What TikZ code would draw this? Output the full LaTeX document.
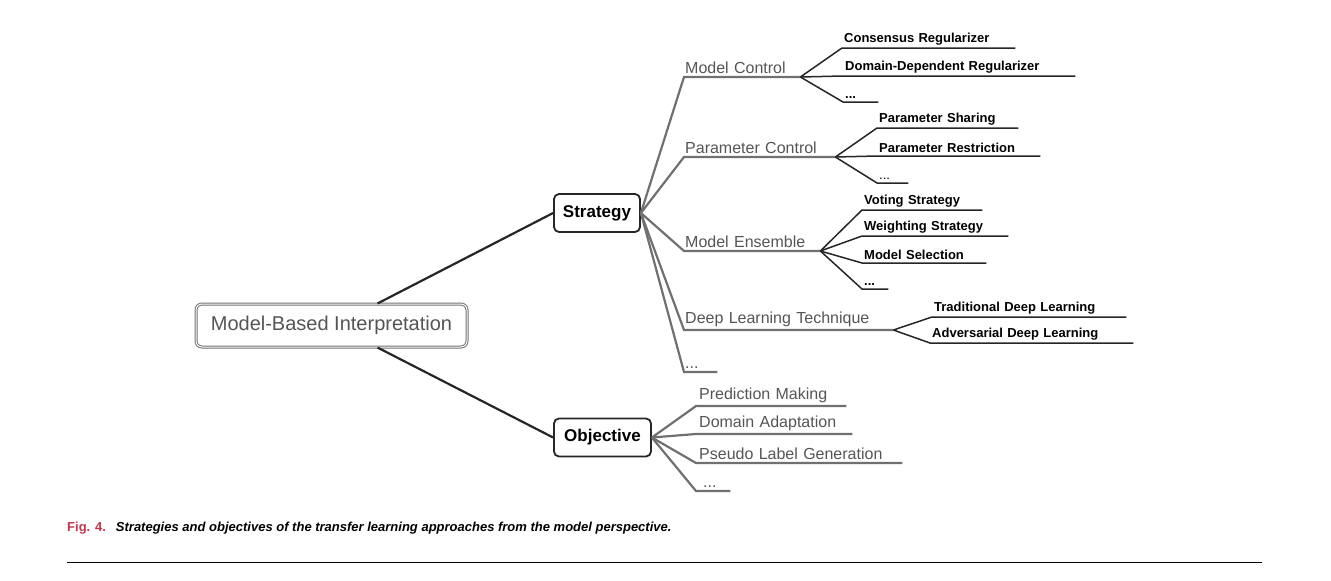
\documentclass[tikz,border=0pt]{standalone}
\usepackage{fontspec}
\setmainfont{Liberation Sans}
\definecolor{gtext}{HTML}{555555}
\definecolor{gline}{HTML}{707070}
\definecolor{figred}{HTML}{C0384B}
\tikzset{
 lone/.style={anchor=south west,inner xsep=1pt,inner ysep=3pt,text width=#1,align=left,text=gtext,font=\fontsize{16}{18}\selectfont},
 ltwo/.style={anchor=south west,inner xsep=2pt,inner ysep=3pt,text width=#1,align=left,font=\fontsize{13}{15}\selectfont\bfseries},
 gl/.style={draw=gline,line width=2.2pt},
 bl/.style={draw=black!85,line width=1.5pt},
 hub/.style={draw=black!85,line width=1.8pt,rounded corners=5pt,font=\fontsize{17}{19}\selectfont\bfseries,inner sep=0pt}
}
\begin{document}
\begin{tikzpicture}[x=1pt,y=-1pt]
\useasboundingbox (0,0) rectangle (1331,581);
\node[draw=gline,double=white,double distance=1pt,line width=1pt,rounded corners=6pt,minimum width=271pt,minimum height=43pt,text=gtext,font=\fontsize{20}{22}\selectfont] (root) at (331.5,325.5) {Model-Based Interpretation};
\node[hub,minimum width=86pt,minimum height=38pt] (str) at (597,213) {Strategy};
\node[hub,minimum width=97pt,minimum height=38pt] (obj) at (602.5,437.5) {Objective};
\draw[line width=2.2pt,black!85] (root.north) ++(46,0) coordinate (r1) -- (str.west);
\draw[line width=2.2pt,black!85] (root.south) ++(46,0) coordinate (r2) -- (obj.west);
% strategy level 1
\node[lone=114pt] (mc) at (684,77) {Model Control};
\node[lone=149pt] (pc) at (684,157) {Parameter Control};
\node[lone=134pt] (me) at (684,251) {Model Ensemble};
\node[lone=207pt] (dl) at (684,330) {Deep Learning Technique};
\node[lone=31pt] (sd) at (684,372) {...};
\foreach \n in {mc,pc,me,dl,sd} \draw[gl] (str.east) -- (\n.south west) -- (\n.south east);
% model control
\node[ltwo=169pt] (cr) at (842,48) {Consensus Regularizer};
\node[ltwo=228pt] (dd) at (843,76) {Domain-Dependent Regularizer};
\node[ltwo=31pt] (md) at (843,102) {...};
\foreach \n in {cr,dd,md} \draw[bl] (mc.south east) -- (\n.south west) -- (\n.south east);
% parameter control
\node[ltwo=137pt] (ps) at (877,128) {Parameter Sharing};
\node[ltwo=159pt] (pr) at (877,156) {Parameter Restriction};
\node[ltwo=27pt] (pd) at (877,183) {\mdseries...};
\foreach \n in {ps,pr,pd} \draw[bl] (pc.south east) -- (\n.south west) -- (\n.south east);
% model ensemble
\node[ltwo=116pt] (vs) at (862,210) {Voting Strategy};
\node[ltwo=142pt] (ws) at (862,236) {Weighting Strategy};
\node[ltwo=120pt] (ms) at (862,263) {Model Selection};
\node[ltwo=22pt] (ed) at (862,289) {...};
\foreach \n in {vs,ws,ms,ed} \draw[bl] (me.south east) -- (\n.south west) -- (\n.south east);
% deep learning
\node[ltwo=190pt] (td) at (932,317) {Traditional Deep Learning};
\node[ltwo=199pt] (ad) at (930,343) {Adversarial Deep Learning};
\foreach \n in {td,ad} \draw[bl] (dl.south east) -- (\n.south west) -- (\n.south east);
% objective
\node[lone=148pt] (pm) at (696,406) {\hspace{2pt}Prediction Making};
\node[lone=154pt] (da) at (696,434) {\hspace{2pt}Domain Adaptation};
\node[lone=204pt] (pl) at (696,463) {\hspace{2pt}Pseudo Label Generation};
\node[lone=32pt] (od) at (696,491) {\hspace{6pt}...};
\foreach \n in {pm,da,pl,od} \draw[gl] (obj.east) -- (\n.south west) -- (\n.south east);
% caption
\node[anchor=west,inner sep=0pt,font=\fontsize{13}{15}\selectfont\bfseries] (cap) at (67,528) {\textcolor{figred}{Fig. 4.}\hspace{10pt}\itshape Strategies and objectives of the transfer learning approaches from the model perspective.};
\coordinate (ruleL) at (67,562);
\coordinate (ruleR) at (1262,562);
\draw[line width=1pt] (ruleL) -- (ruleR);
\end{tikzpicture}
\end{document}
